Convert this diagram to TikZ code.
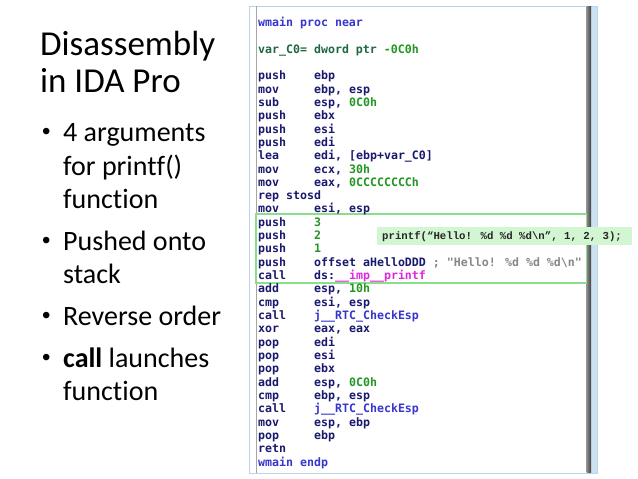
\documentclass[tikz,border=0pt]{standalone}
\usepackage{fontspec}
\setmainfont{Carlito}[Ligatures=NoCommon]
\newfontfamily\codefont{DejaVu Sans Mono}
\newfontfamily\callfont{Liberation Mono}
\newfontfamily\bulfont{Liberation Sans}
\definecolor{navy}{RGB}{25,25,110}
\definecolor{idablue}{RGB}{55,55,205}
\definecolor{idagreen}{RGB}{35,150,35}
\definecolor{idateal}{RGB}{30,105,65}
\definecolor{idamag}{RGB}{225,40,225}
\definecolor{idagray}{RGB}{135,135,135}
\definecolor{framblue}{RGB}{185,212,232}
\definecolor{lightbar}{RGB}{205,226,240}
\definecolor{hlgreen}{RGB}{140,222,140}
\definecolor{callfill}{RGB}{210,246,210}
\newcommand\gr[1]{\textcolor{idagreen}{#1}}
\newcommand\bl[1]{\textcolor{idablue}{#1}}
\tikzset{
  code/.style={font=\codefont\bfseries\fontsize{11.6}{13}\selectfont, anchor=base west, inner sep=0pt, text=navy},
  title/.style={font=\fontsize{35}{40}\selectfont, anchor=base west, inner sep=0pt, text=black},
  body/.style={font=\fontsize{28}{32}\selectfont, anchor=base west, inner sep=0pt, text=black},
  bullet/.style={font=\bulfont\fontsize{24}{28}\selectfont, anchor=base west, inner sep=0pt, text=black},
  callout/.style={font=\callfont\bfseries\fontsize{10.7}{12}\selectfont, anchor=base west, inner sep=0pt, text=black!85},
}
\newcommand\cl[3]{%
  \node[code] (a#1) at (258,{26.5+(#1-1)*13.32}) {#2};
  \node[code] (b#1) at (314,{26.5+(#1-1)*13.32}) {#3};}
\begin{document}
\begin{tikzpicture}[x=1pt,y=-1pt]
\useasboundingbox[fill=white] (0,0) rectangle (638,479);
% window frame
\fill[white] (249,6) rectangle (597,473);
\draw[framblue, line width=1pt] (249,6) rectangle (597,473);
\draw[gray!70, line width=1pt] (256,6) -- (256,473);
\fill[lightbar] (591,6.5) rectangle (596.5,472.5);
\shade[left color=black!45, right color=black!75] (586.5,6.5) rectangle (591,472.5);
% highlight of the call
\draw[hlgreen, line width=1.3pt] (256,214) rectangle (586.5,283);
% code
\node[code, text=idablue] (a1) at (258,26.5) {wmain proc near};
\node[code, text=idateal] (a3) at (258,{26.5+2*13.32}) {var\_C0= dword ptr \textcolor{idagreen}{-0C0h}};
\cl{5}{push}{ebp}
\cl{6}{mov}{ebp, esp}
\cl{7}{sub}{esp, \gr{0C0h}}
\cl{8}{push}{ebx}
\cl{9}{push}{esi}
\cl{10}{push}{edi}
\cl{11}{lea}{edi, [ebp+var\_C0]}
\cl{12}{mov}{ecx, \gr{30h}}
\cl{13}{mov}{eax, \gr{0CCCCCCCCh}}
\node[code] (a14) at (258,{26.5+13*13.32}) {rep stosd};
\cl{15}{mov}{esi, esp}
\cl{16}{push}{\gr{3}}
\cl{17}{push}{\gr{2}}
\cl{18}{push}{\gr{1}}
\cl{19}{push}{offset aHelloDDD \textcolor{idagray}{; "Hello! \%d \%d \%d\textbackslash n"}}
\cl{20}{call}{ds:\textcolor{idamag}{\_\_imp\_\_printf}}
\cl{21}{add}{esp, \gr{10h}}
\cl{22}{cmp}{esi, esp}
\cl{23}{call}{\bl{j\_\_RTC\_CheckEsp}}
\cl{24}{xor}{eax, eax}
\cl{25}{pop}{edi}
\cl{26}{pop}{esi}
\cl{27}{pop}{ebx}
\cl{28}{add}{esp, \gr{0C0h}}
\cl{29}{cmp}{ebp, esp}
\cl{30}{call}{\bl{j\_\_RTC\_CheckEsp}}
\cl{31}{mov}{esp, ebp}
\cl{32}{pop}{ebp}
\node[code] (a33) at (258,{26.5+32*13.32}) {retn};
\node[code, text=idablue] (a34) at (258,{26.5+33*13.32}) {wmain endp};
% callout
\fill[callfill] (377,227) rectangle (632,245);
\node[callout] (call) at (382,239.5) {printf(“Hello! \%d \%d \%d\textbackslash n”, 1, 2, 3);};
% left text
\node[title] (t1) at (40,55) {Disassembly};
\node[title] (t2) at (40,92) {in IDA Pro};
\foreach \y [count=\i] in {139,248,323,365} \node[bullet] (bu\i) at (42,\y) {•};
\node[body] (b1a) at (63,141) {4 arguments};
\node[body] (b1b) at (63,175) {for printf()};
\node[body] (b1c) at (63,208) {function};
\node[body] (b2a) at (63,250) {Pushed onto};
\node[body] (b2b) at (63,283) {stack};
\node[body] (b3a) at (63,325) {Reverse order};
\node[body] (b4a) at (63,367) {\textbf{call} launches};
\node[body] (b4b) at (63,400) {function};
\end{tikzpicture}
\end{document}
